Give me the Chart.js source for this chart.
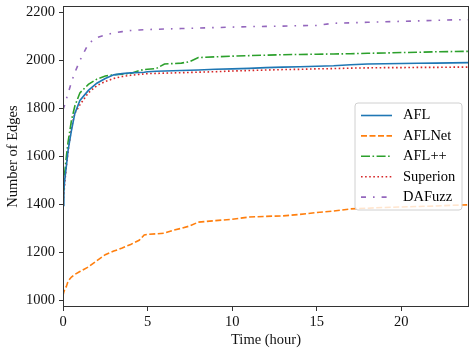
<!DOCTYPE html>
<html>
<head>
<meta charset="utf-8">
<script src="https://cdn.jsdelivr.net/npm/chart.js@4.4.1/dist/chart.umd.min.js"></script>
<style>
html,body{margin:0;padding:0;background:#fff;}
#wrap{width:474px;height:353px;}
</style>
</head>
<body>
<div id="wrap"><canvas id="c" width="474" height="353"></canvas></div>
<script>
const hours = [0, 0.05, 0.1, 0.2, 0.3, 0.5, 0.7, 1.0, 1.5, 2.0, 2.5, 3.0, 3.5, 4.0, 4.5, 4.8, 5.0, 5.5, 6.0, 6.5, 7.0, 7.5, 8.0, 9, 10, 11, 12, 13, 14, 15, 16, 17, 18, 19, 20, 21, 22, 23, 24];
const afl      = [1395, 1460, 1500, 1560, 1625, 1708, 1779, 1833, 1875, 1905, 1925, 1940, 1945, 1948, 1950, 1951, 1953, 1955, 1956, 1957, 1958, 1959, 1960, 1963, 1965, 1967, 1970, 1972, 1974, 1976, 1978, 1982, 1985, 1986, 1987, 1988, 1989, 1990, 1991];
const aflnet   = [1020, 1035, 1045, 1058, 1080, 1097, 1108, 1120, 1139, 1165, 1190, 1205, 1218, 1233, 1250, 1272, 1275, 1277, 1280, 1292, 1300, 1310, 1326, 1332, 1338, 1347, 1350, 1352, 1358, 1366, 1372, 1381, 1384, 1387, 1389, 1391, 1393, 1396, 1398];
const aflpp    = [1390, 1480, 1530, 1600, 1660, 1750, 1810, 1865, 1900, 1922, 1935, 1940, 1943, 1946, 1958, 1962, 1963, 1966, 1985, 1987, 1989, 1995, 2012, 2015, 2018, 2020, 2022, 2024, 2025, 2026, 2027, 2028, 2030, 2031, 2033, 2034, 2036, 2037, 2038];
const superion = [1410, 1440, 1487, 1560, 1620, 1720, 1780, 1815, 1865, 1895, 1912, 1925, 1933, 1938, 1942, 1944, 1945, 1946, 1947, 1948, 1949, 1950, 1951, 1953, 1956, 1958, 1960, 1962, 1963, 1965, 1966, 1968, 1969, 1970, 1970, 1971, 1971, 1972, 1972];
const dafuzz   = [1795, 1805, 1815, 1840, 1862, 1910, 1950, 2000, 2070, 2095, 2106, 2115, 2120, 2125, 2127, 2128, 2129, 2130, 2131, 2132, 2133, 2134, 2135, 2137, 2139, 2141, 2142, 2143, 2145, 2146, 2155, 2157, 2159, 2161, 2163, 2165, 2167, 2169, 2170];
const seriesNames = ["AFL", "AFLNet", "AFL++", "Superion", "DAFuzz"];
const xTicks = [0, 5, 10, 15, 20];
const yTicks = [1000, 1200, 1400, 1600, 1800, 2000, 2200];

const FONT = "'Liberation Serif', 'Times New Roman', serif";
const pts = arr => arr.map((v, i) => ({x: hours[i], y: v}));
const styles = [
  {color: '#1f77b4', dash: []},
  {color: '#ff7f0e', dash: [6, 2.5]},
  {color: '#2ca02c', dash: [9, 2.5, 1.6, 2.5]},
  {color: '#d62728', dash: [1.6, 2.5]},
  {color: '#9467bd', dash: [5, 7, 1.6, 7]}
];
const values = [afl, aflnet, aflpp, superion, dafuzz];

const datasets = seriesNames.map((n, i) => ({
  label: n,
  data: pts(values[i]),
  borderColor: styles[i].color,
  backgroundColor: styles[i].color,
  borderDash: styles[i].dash,
  borderWidth: 1.6,
  pointRadius: 0,
  tension: 0,
  fill: false
}));

const framePlugin = {
  id: 'frameLegend',
  afterDatasetsDraw(chart) {
    const ctx = chart.ctx;
    const a = chart.chartArea;
    ctx.save();
    ctx.strokeStyle = '#333';
    ctx.lineWidth = 1;
    ctx.setLineDash([]);
    ctx.strokeRect(Math.round(a.left) + 0.5, Math.round(a.top) + 0.5,
      Math.round(a.right - a.left) - 1, Math.round(a.bottom - a.top) - 1);
    const lx = a.right - 114, ly = 103, lw = 107, lh = 107;
    ctx.beginPath();
    const r = 3;
    ctx.moveTo(lx + r, ly);
    ctx.arcTo(lx + lw, ly, lx + lw, ly + lh, r);
    ctx.arcTo(lx + lw, ly + lh, lx, ly + lh, r);
    ctx.arcTo(lx, ly + lh, lx, ly, r);
    ctx.arcTo(lx, ly, lx + lw, ly, r);
    ctx.closePath();
    ctx.fillStyle = 'rgba(255,255,255,0.8)';
    ctx.fill();
    ctx.strokeStyle = '#d0d0d0';
    ctx.lineWidth = 1;
    ctx.stroke();
    ctx.font = '14.5px ' + FONT;
    ctx.textBaseline = 'middle';
    ctx.textAlign = 'left';
    chart.data.datasets.forEach((ds, i) => {
      const y = ly + 12.5 + i * 20.4;
      ctx.beginPath();
      ctx.strokeStyle = ds.borderColor;
      ctx.lineWidth = ds.borderWidth;
      ctx.setLineDash(ds.borderDash);
      ctx.moveTo(lx + 6, y);
      ctx.lineTo(lx + 37, y);
      ctx.stroke();
      ctx.setLineDash([]);
      ctx.fillStyle = '#000';
      ctx.fillText(ds.label, lx + 48, y);
    });
    ctx.restore();
  }
};

new Chart(document.getElementById('c'), {
  type: 'line',
  data: {datasets},
  options: {
    responsive: false,
    animation: false,
    layout: {padding: {left: 0, right: 5, top: 6, bottom: 0}},
    plugins: {legend: {display: false}, tooltip: {enabled: false}},
    scales: {
      x: {
        type: 'linear',
        min: 0, max: 24,
        afterBuildTicks: s => { s.ticks = xTicks.map(v => ({value: v})); },
        afterFit: s => { s.height = 46; s.paddingLeft = 0; s.paddingRight = 0; },
        grid: {display: true, drawOnChartArea: false, drawTicks: true, tickLength: 4, color: '#333', lineWidth: 1},
        border: {display: false},
        ticks: {color: '#111', padding: 2, maxRotation: 0, font: {family: FONT, size: 14.5}, callback: v => String(v)},
        title: {display: true, text: 'Time (hour)', color: '#111', padding: {top: 0, bottom: 4}, font: {family: FONT, size: 14.5}}
      },
      y: {
        type: 'linear',
        min: 972, max: 2227,
        afterBuildTicks: s => { s.ticks = yTicks.map(v => ({value: v})); },
        afterFit: s => { s.width = 63; s.paddingTop = 0; s.paddingBottom = 0; },
        grid: {display: true, drawOnChartArea: false, drawTicks: true, tickLength: 4, color: '#333', lineWidth: 1},
        border: {display: false},
        ticks: {color: '#111', padding: 4, font: {family: FONT, size: 14.5}, callback: v => String(v)},
        title: {display: true, text: 'Number of Edges', color: '#111', padding: {top: 4, bottom: 0}, font: {family: FONT, size: 14.5}}
      }
    }
  },
  plugins: [framePlugin]
});
</script>
</body>
</html>
